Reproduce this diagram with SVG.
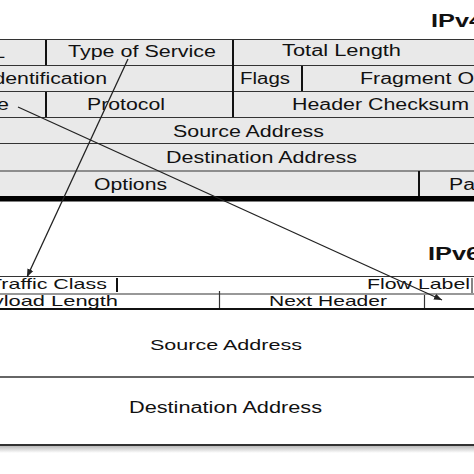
<svg xmlns="http://www.w3.org/2000/svg" width="474" height="474" viewBox="0 0 474 474">
<style>
  text{font-family:"Liberation Sans",Arial,sans-serif;fill:#111}
  .v4{font-size:16px}
  .v6{font-size:15px}
  .ttl{font-size:19px;font-weight:bold}
  .row{stroke:#333;stroke-width:1.2}
  .col{stroke:#111;stroke-width:2}
  .conn{stroke:#222;stroke-width:1.3;fill:none}
</style>
<defs>
  <marker id="ah" viewBox="0 0 10 10" refX="10" refY="5" markerWidth="8" markerHeight="8" markerUnits="userSpaceOnUse" orient="auto">
    <path d="M0,1 L10,5 L0,9 Z" fill="#222"/>
  </marker>
  <linearGradient id="shadow" x1="0" y1="0" x2="0" y2="1">
    <stop offset="0" stop-color="#bbb"/>
    <stop offset="1" stop-color="#fff"/>
  </linearGradient>
</defs>
<rect width="474" height="474" fill="#fff"/>

<g id="ipv4">
  <rect x="0" y="39" width="474" height="158" fill="#e9e9e9"/>
  <line class="row" x1="0" y1="39.5" x2="474" y2="39.5"/>
  <line class="row" x1="0" y1="65.5" x2="474" y2="65.5"/>
  <line class="row" x1="0" y1="91.5" x2="474" y2="91.5"/>
  <line class="row" x1="0" y1="117.5" x2="474" y2="117.5"/>
  <line class="row" x1="0" y1="143.5" x2="474" y2="143.5"/>
  <line class="row" x1="0" y1="171" x2="474" y2="171"/>
  <line class="col" x1="46" y1="40" x2="46" y2="65"/>
  <line class="col" x1="46" y1="92" x2="46" y2="117"/>
  <line class="col" x1="233" y1="40" x2="233" y2="117"/>
  <line class="col" x1="302" y1="66" x2="302" y2="91"/>
  <line class="col" x1="419" y1="171" x2="419" y2="197"/>
  <rect x="0" y="196" width="474" height="5.5" fill="#000"/>
  <text class="ttl" x="431" y="27" textLength="52" lengthAdjust="spacingAndGlyphs">IPv4</text>
  <text class="v4" x="-28" y="58" textLength="33" lengthAdjust="spacingAndGlyphs">IHL</text>
  <text class="v4" x="68" y="57" textLength="148" lengthAdjust="spacingAndGlyphs">Type of Service</text>
  <text class="v4" x="282" y="56" textLength="119" lengthAdjust="spacingAndGlyphs">Total Length</text>
  <text class="v4" x="-12.5" y="84" textLength="119.5" lengthAdjust="spacingAndGlyphs">Identification</text>
  <text class="v4" x="240" y="84" textLength="50" lengthAdjust="spacingAndGlyphs">Flags</text>
  <text class="v4" x="360" y="84" textLength="154" lengthAdjust="spacingAndGlyphs">Fragment Offset</text>
  <text class="v4" x="-107" y="110" textLength="116" lengthAdjust="spacingAndGlyphs">Time to Live</text>
  <text class="v4" x="87" y="110" textLength="78" lengthAdjust="spacingAndGlyphs">Protocol</text>
  <text class="v4" x="292" y="110" textLength="177" lengthAdjust="spacingAndGlyphs">Header Checksum</text>
  <text class="v4" x="173" y="137" textLength="151" lengthAdjust="spacingAndGlyphs">Source Address</text>
  <text class="v4" x="166" y="163" textLength="191" lengthAdjust="spacingAndGlyphs">Destination Address</text>
  <text class="v4" x="94" y="190" textLength="73" lengthAdjust="spacingAndGlyphs">Options</text>
  <text class="v4" x="449" y="190" textLength="78" lengthAdjust="spacingAndGlyphs">Padding</text>
</g>

<g id="ipv6">
  <text class="ttl" x="428" y="260" textLength="52" lengthAdjust="spacingAndGlyphs">IPv6</text>
  <line class="row" x1="0" y1="276.5" x2="474" y2="276.5"/>
  <line class="row" x1="0" y1="294" x2="474" y2="294"/>
  <line x1="0" y1="309" x2="474" y2="309" stroke="#111" stroke-width="2.2"/>
  <line class="col" x1="117" y1="278" x2="117" y2="292"/>
  <line class="row" x1="472" y1="278" x2="472" y2="293"/>
  <line class="row" x1="219.5" y1="291" x2="219.5" y2="308"/>
  <line class="row" x1="424.5" y1="295" x2="424.5" y2="308"/>
  <text class="v6" x="-11" y="289" textLength="118" lengthAdjust="spacingAndGlyphs">Traffic Class</text>
  <text class="v6" x="367" y="289" textLength="103" lengthAdjust="spacingAndGlyphs">Flow Label</text>
  <text class="v6" x="-34" y="306" textLength="152" lengthAdjust="spacingAndGlyphs">Payload Length</text>
  <text class="v6" x="269" y="306" textLength="118" lengthAdjust="spacingAndGlyphs">Next Header</text>
  <text class="v6" x="150" y="350" textLength="152" lengthAdjust="spacingAndGlyphs" style="font-size:14px">Source Address</text>
  <line x1="0" y1="377" x2="474" y2="377" stroke="#333" stroke-width="1.5"/>
  <text class="v4" x="129" y="413" textLength="193" lengthAdjust="spacingAndGlyphs">Destination Address</text>
  <rect x="0" y="446" width="474" height="7" fill="url(#shadow)"/>
  <line x1="0" y1="445" x2="474" y2="445" stroke="#333" stroke-width="2"/>
</g>

<g id="connectors">
  <line class="conn" x1="128" y1="59" x2="27" y2="277" marker-end="url(#ah)"/>
  <line class="conn" x1="18" y1="107" x2="442" y2="300" marker-end="url(#ah)"/>
</g>
</svg>
